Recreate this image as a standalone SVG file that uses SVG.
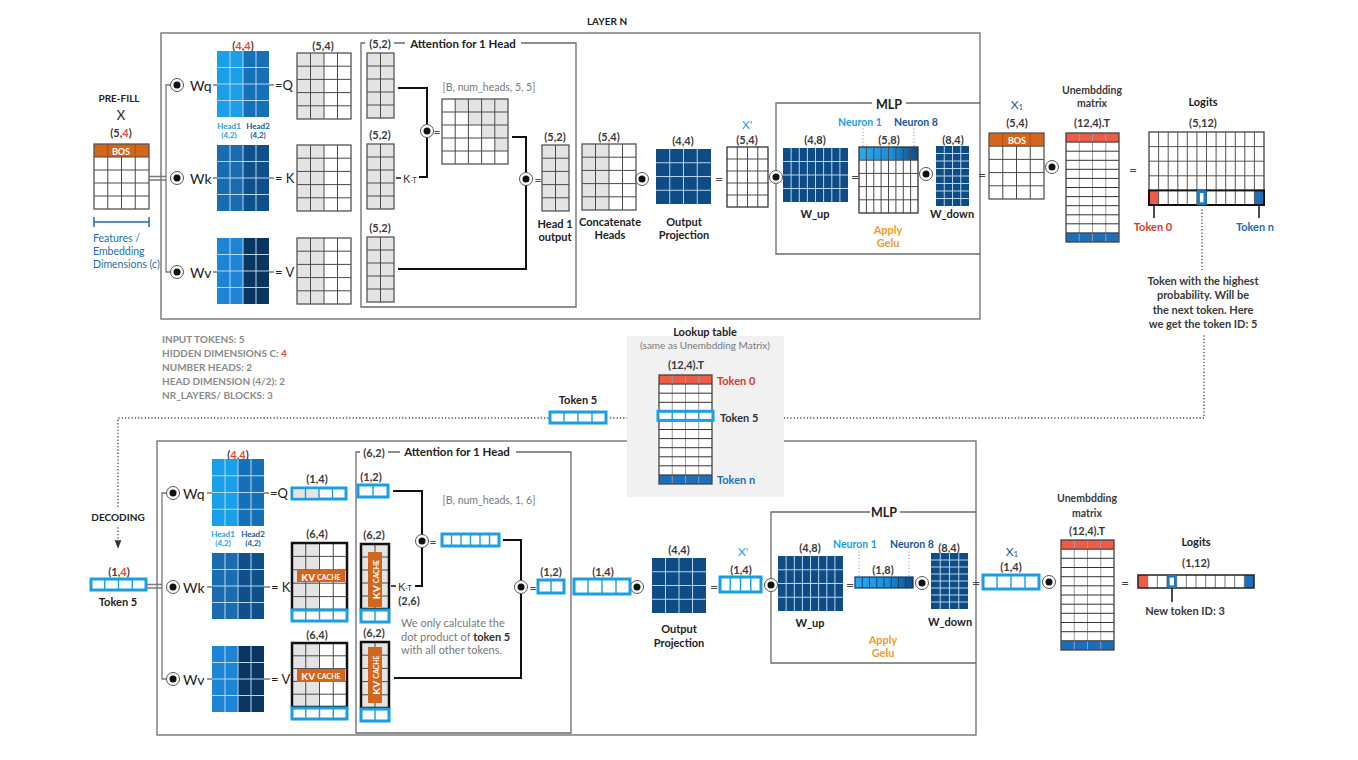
<svg xmlns="http://www.w3.org/2000/svg" width="1358" height="760" viewBox="0 0 1358 760">
<style>
text{font-family:Lato,"Noto Sans","Liberation Sans",sans-serif;dominant-baseline:central}
.l{font-size:11px;font-weight:700;fill:#3a3a3a;text-anchor:middle}
.t{font-size:11px;font-weight:700;fill:#222;text-anchor:middle}
.w{font-size:14px;fill:#222}
.wq{font-size:13px;fill:#222}
.eq{font-size:14px;fill:#444;text-anchor:middle}
.r{fill:#e8493a}
.g{stroke:#4a4a4a;stroke-width:1;fill:none}
.gl{stroke:#9a9a9a;stroke-width:1;fill:none}
.gb{fill:none;stroke:#555;stroke-width:1.3}
.gc{fill:#e4e4e4}
.bx{fill:none;stroke:#6b6b6b;stroke-width:1.3}
.bl{stroke:#b8d6ef;stroke-width:1;fill:none}
.dk{fill:#0f4c85}
.cn{stroke:#111;stroke-width:2;fill:none}
.bus{stroke:#7a7a7a;stroke-width:1.3;fill:none}
.dot{stroke:#333;stroke-width:1.4;stroke-dasharray:0.1 3.2;stroke-linecap:round;fill:none}
.vec{fill:#fff;stroke:#1a9ee6;stroke-width:3}
.vd{stroke:#1a9ee6;stroke-width:1.4;fill:none}
.kv{stroke:#111;stroke-width:2.5;fill:none}
.ko{fill:#d4651c}
.kt{font-weight:700;fill:#fff;text-anchor:middle}
.pm{font-size:10px;font-weight:700;fill:#8a8a8a}
.gt{font-size:10.5px;fill:#7a7a7a;text-anchor:middle}
.hd{font-size:8px;font-weight:700;text-anchor:middle}
.or{font-size:11px;font-weight:700;fill:#f39a2b;text-anchor:middle}
</style>
<defs>
<g id="op"><circle r="6.5" fill="#fff" stroke="#555" stroke-width="1"/><circle r="3.5" fill="#111"/></g>
<linearGradient id="neu" x1="0" x2="1" y1="0" y2="0"><stop offset="0" stop-color="#2aa8f0"/><stop offset="0.55" stop-color="#1a8fdc"/><stop offset="1" stop-color="#0e4a82"/></linearGradient>
<marker id="arr" viewBox="0 0 10 10" refX="8" refY="5" markerWidth="6" markerHeight="6" orient="auto"><path d="M0 1L10 5L0 9Z" fill="#333"/></marker>
</defs>

<!-- ===== Frames ===== -->
<g id="frames">
<text x="607" y="21" class="t" style="font-size:10px">LAYER N</text>
<rect x="161" y="33" width="819" height="286" class="bx"/>
<path class="bx" d="M365 43H361V307H576V43H521M394 43H405"/>
<text x="463" y="43" class="t" style="font-size:11.5px">Attention for 1 Head</text>
<path class="bx" d="M872 103H776V254H980M906 103H980"/>
<text x="889" y="104" class="t" style="font-size:12.5px">MLP</text>
<rect x="157" y="441" width="819" height="294" class="bx"/>
<path class="bx" d="M360 452H356V733H571V452H516M388 452H400"/>
<text x="457" y="451" class="t" style="font-size:11.5px">Attention for 1 Head</text>
<path class="bx" d="M870 512H771V663H976M900 512H976"/>
<text x="884" y="512" class="t" style="font-size:12.5px">MLP</text>
</g>

<!-- ===== Connectors ===== -->
<g id="connectors">
<path class="bus" d="M149 176.5H166M149 180H166M171 85H166V272H171"/>
<path class="bus" d="M213 85H217M269 85H274M213 178H217M269 178H274M213 272H217M269 272H274"/>
<path class="cn" d="M398 88H427V177H419"/>
<path class="cn" d="M396 178H401" style="stroke-width:1.5"/>
<path class="cn" d="M512 137H526V269H398"/>
<path class="bus" d="M146 584.5H162M146 588H162M168 493H162V679H168"/>
<path class="bus" d="M207 493H212M264 493H269M207 587H212M264 587H270M207 679H212M264 679H270"/>
<path class="cn" d="M393 491H422V586H415"/>
<path class="cn" d="M391 586H396" style="stroke-width:1.5"/>
<path class="cn" d="M503 540H521V678H394"/>
<path class="dot" d="M1202 210V270"/>
<path class="dot" d="M1204 336V418H774" marker-end="url(#arr)"/>
<path class="dot" d="M647 418H608"/>
<path class="dot" d="M548 418H118V508"/>
<path class="dot" d="M118 528V547" marker-end="url(#arr)"/>
<path class="dot" style="stroke:#777;stroke-width:1" d="M863 129V146M914 129V146M859 552V576M909 552V576"/>
<path d="M1154 205V218M1259 205V218M1172 588V602" stroke="#111" stroke-width="1.5"/>
<path d="M94 222H149M94 217V227M149 217V227" stroke="#1a6fb0" stroke-width="1.5"/>
</g>

<!-- ===== Operators ===== -->
<g id="operators">
<use href="#op" x="177" y="85"/><use href="#op" x="177" y="178"/><use href="#op" x="177" y="272"/>
<use href="#op" x="427" y="131"/><use href="#op" x="526" y="179"/>
<use href="#op" x="642" y="179"/><use href="#op" x="776" y="177"/><use href="#op" x="926" y="174"/><use href="#op" x="1052" y="167"/>
<use href="#op" x="173" y="493"/><use href="#op" x="173" y="587"/><use href="#op" x="173" y="679"/>
<use href="#op" x="422" y="541"/><use href="#op" x="521" y="587"/>
<use href="#op" x="637" y="587"/><use href="#op" x="771" y="585"/><use href="#op" x="922" y="583"/><use href="#op" x="1049" y="582"/>
<text x="437" y="131" class="eq" style="font-size:12px">=</text>
<text x="538" y="179" class="eq" style="font-size:12px">=</text>
<text x="719" y="178" class="eq">=</text>
<text x="855" y="176" class="eq">=</text>
<text x="982" y="174" class="eq">=</text>
<text x="1133" y="169" class="eq">=</text>
<text x="433" y="541" class="eq" style="font-size:12px">=</text>
<text x="533" y="587" class="eq" style="font-size:12px">=</text>
<text x="714" y="586" class="eq">=</text>
<text x="850" y="584" class="eq">=</text>
<text x="976" y="582" class="eq">=</text>
<text x="1125" y="582" class="eq">=</text>
</g>

<!-- ===== PRE-FILL input ===== -->
<g id="prefill-x">
<text x="119" y="98" class="t" style="font-size:10px">PRE-FILL</text>
<text x="121" y="115" class="t" style="font-size:13px;font-weight:400">X</text>
<text x="121" y="132" class="l">(5,<tspan class="r">4</tspan>)</text>
<rect x="94" y="144" width="55" height="13" fill="#d4661c"/>
<path class="g" d="M107.75 157V209M121.5 157V209M135.25 157V209M94 157H149M94 170H149M94 183H149M94 196H149"/>
<path d="M107.75 144V157M135.25 144V157" stroke="#a84c12" stroke-width="1"/>
<rect x="94" y="144" width="55" height="65" class="gb"/>
<text x="121" y="151" class="kt" style="font-size:9px">BOS</text>
<text x="93" y="238" style="font-size:10.5px;fill:#1a6fb0">Features /</text>
<text x="93" y="251" style="font-size:10.5px;fill:#1a6fb0">Embedding</text>
<text x="93" y="264" style="font-size:10.5px;fill:#1a6fb0">Dimensions (c)</text>
</g>

<!-- ===== Top weights ===== -->
<g id="top-weights">
<text x="190" y="85" class="w">Wq</text>
<text x="190" y="178" class="w">Wk</text>
<text x="190" y="272" class="w">Wv</text>
<text x="243" y="45" class="l">(<tspan class="r">4</tspan>,<tspan class="r">4</tspan>)</text>
<rect x="217" y="51" width="26" height="66" fill="#1aa0ea"/><rect x="243" y="51" width="26" height="66" fill="#1570b8"/>
<path class="bl" d="M230 51V117M243 51V117M256 51V117M217 67.5H269M217 84H269M217 100.5H269"/>
<text x="229" y="126" class="hd" fill="#1a9ee6">Head1</text><text x="229" y="135" class="hd" fill="#1a9ee6">(4,2)</text>
<text x="258" y="126" class="hd" fill="#15589a">Head2</text><text x="258" y="135" class="hd" fill="#15589a">(4,2)</text>
<rect x="217" y="145" width="26" height="66" fill="#1a6cb0"/><rect x="243" y="145" width="26" height="66" fill="#0f4f8c"/>
<path class="bl" d="M230 145V211M243 145V211M256 145V211M217 161.5H269M217 178H269M217 194.5H269"/>
<rect x="217" y="238" width="26" height="66" fill="#1c85d5"/><rect x="243" y="238" width="26" height="66" fill="#0a3560"/>
<path class="bl" d="M230 238V304M243 238V304M256 238V304M217 254.5H269M217 271H269M217 287.5H269"/>
<text x="275" y="85" class="wq">=Q</text>
<text x="275" y="178" class="wq">= K</text>
<text x="275" y="272" class="wq">= V</text>
</g>

<g id="top-qkv">
<text x="323" y="45" class="l">(5,4)</text>
<rect x="297" y="53" width="27" height="66" class="gc"/>
<path class="g" d="M310.5 53V119M324 53V119M337.5 53V119M297 66.2H351M297 79.4H351M297 92.6H351M297 105.8H351"/>
<rect x="297" y="53" width="54" height="66" class="gb"/>
<rect x="297" y="145" width="27" height="66" class="gc"/>
<path class="g" d="M310.5 145V211M324 145V211M337.5 145V211M297 158.2H351M297 171.4H351M297 184.6H351M297 197.8H351"/>
<rect x="297" y="145" width="54" height="66" class="gb"/>
<rect x="297" y="238" width="27" height="66" class="gc"/>
<path class="g" d="M310.5 238V304M324 238V304M337.5 238V304M297 251.2H351M297 264.4H351M297 277.6H351M297 290.8H351"/>
<rect x="297" y="238" width="54" height="66" class="gb"/>
</g>

<!-- ===== Top attention ===== -->
<g id="top-attention">
<text x="380" y="43" class="l">(5,2)</text>
<rect x="367" y="53" width="27" height="65" class="gc"/>
<path class="g" d="M380.5 53V118M367 66H394M367 79H394M367 92H394M367 105H394"/>
<rect x="367" y="53" width="27" height="65" class="gb"/>
<text x="380" y="134" class="l">(5,2)</text>
<rect x="367" y="144" width="27" height="65" class="gc"/>
<path class="g" d="M380.5 144V209M367 157H394M367 170H394M367 183H394M367 196H394"/>
<rect x="367" y="144" width="27" height="65" class="gb"/>
<text x="403" y="178" style="font-size:11px;fill:#333">K<tspan style="font-size:7px" dy="2">-T</tspan></text>
<text x="380" y="227" class="l">(5,2)</text>
<rect x="367" y="237" width="27" height="65" class="gc"/>
<path class="g" d="M380.5 237V302M367 250H394M367 263H394M367 276H394M367 289H394"/>
<rect x="367" y="237" width="27" height="65" class="gb"/>
<text x="489" y="87" class="gt">[B, num_heads, 5, 5]</text>
<rect x="455.2" y="99" width="52.8" height="13" class="gc"/>
<rect x="468.4" y="112" width="39.6" height="13" class="gc"/>
<rect x="481.6" y="125" width="26.4" height="13" class="gc"/>
<rect x="494.8" y="138" width="13.2" height="13" class="gc"/>
<path class="g" d="M455.2 99V164M468.4 99V164M481.6 99V164M494.8 99V164M442 112H508M442 125H508M442 138H508M442 151H508"/>
<rect x="442" y="99" width="66" height="65" class="gb"/>
<text x="555" y="136" class="l">(5,2)</text>
<rect x="542" y="145" width="27" height="66" class="gc"/>
<path class="g" d="M555.5 145V211M542 158.2H569M542 171.4H569M542 184.6H569M542 197.8H569"/>
<rect x="542" y="145" width="27" height="66" class="gb"/>
<text x="555" y="223" class="t">Head 1</text>
<text x="555" y="236" class="t">output</text>
</g>

<g id="top-concat">
<text x="609" y="136" class="l">(5,4)</text>
<rect x="582" y="144" width="27" height="66" class="gc"/>
<path class="g" d="M595.5 144V210M609 144V210M622.5 144V210M582 157.2H636M582 170.4H636M582 183.6H636M582 196.8H636"/>
<rect x="582" y="144" width="54" height="66" class="gb"/>
<text x="610" y="221" class="t">Concatenate</text>
<text x="610" y="234" class="t">Heads</text>
</g>

<g id="top-outproj">
<text x="683" y="140" class="l">(4,4)</text>
<rect x="656" y="149" width="55" height="55" class="dk"/>
<path class="bl" d="M669.75 149V204M683.5 149V204M697.25 149V204M656 162.75H711M656 176.5H711M656 190.25H711"/>
<text x="684" y="221" class="t">Output</text>
<text x="684" y="234" class="t">Projection</text>
</g>

<g id="top-xprime">
<text x="747" y="124" style="font-size:12px;fill:#1a9ee6;text-anchor:middle">X'</text>
<text x="747" y="139" class="l">(5,4)</text>
<path class="g" d="M737.25 147V207M747.5 147V207M757.75 147V207M727 159H768M727 171H768M727 183H768M727 195H768"/>
<rect x="727" y="147" width="41" height="60" class="gb" style="stroke:#333"/>
</g>

<!-- ===== Top MLP ===== -->
<g id="top-mlp">
<text x="815" y="139" class="l">(4,8)</text>
<rect x="783" y="148" width="65" height="54" class="dk"/>
<path class="bl" d="M791.1 148V202M799.3 148V202M807.4 148V202M815.5 148V202M823.6 148V202M831.8 148V202M839.9 148V202M783 161.5H848M783 175H848M783 188.5H848"/>
<text x="815" y="213" class="t">W_up</text>
<text x="860" y="122" style="font-size:10.5px;font-weight:700;fill:#1a9ee6;text-anchor:middle">Neuron 1</text>
<text x="916" y="122" style="font-size:10.5px;font-weight:700;fill:#15589a;text-anchor:middle">Neuron 8</text>
<text x="889" y="139" class="l">(5,8)</text>
<rect x="859" y="147" width="59" height="13.2" fill="url(#neu)"/>
<path class="g" d="M866.4 147V213M873.8 147V213M881.1 147V213M888.5 147V213M895.9 147V213M903.3 147V213M910.6 147V213M859 160.2H918M859 173.4H918M859 186.6H918M859 199.8H918"/>
<rect x="859" y="147" width="59" height="66" class="gb" style="stroke:#333"/>
<text x="888" y="229" class="or">Apply</text>
<text x="888" y="242" class="or">Gelu</text>
<text x="953" y="139" class="l">(8,4)</text>
<rect x="936" y="146" width="33" height="60" class="dk"/>
<path class="bl" d="M944.25 146V206M952.5 146V206M960.75 146V206M936 153.5H969M936 161H969M936 168.5H969M936 176H969M936 183.5H969M936 191H969M936 198.5H969"/>
<text x="952" y="213" class="t">W_down</text>
</g>

<!-- ===== Top output ===== -->
<g id="top-x1">
<text x="1017" y="104" style="font-size:12px;fill:#1a5fa0;text-anchor:middle">X<tspan style="font-size:8px" dy="3">1</tspan></text>
<text x="1017" y="122" class="l">(5,4)</text>
<rect x="989" y="133" width="55" height="13.2" fill="#d4661c"/>
<path class="g" d="M1002.75 146.2V199M1016.5 146.2V199M1030.25 146.2V199M989 146.2H1044M989 159.4H1044M989 172.6H1044M989 185.8H1044"/>
<path d="M1002.75 133V146.2M1030.25 133V146.2" stroke="#a84c12" stroke-width="1"/>
<rect x="989" y="133" width="55" height="66" class="gb"/>
<text x="1017" y="140" class="kt" style="font-size:9px">BOS</text>
</g>

<g id="top-unembed">
<text x="1092" y="90" class="l" style="font-size:10.5px">Unembdding</text>
<text x="1092" y="103" class="l" style="font-size:10.5px">matrix</text>
<text x="1092" y="122" class="l">(12,4).T</text>
<rect x="1066" y="133" width="53" height="9.1" fill="#ee5c47"/>
<rect x="1066" y="232.9" width="53" height="9.1" fill="#1a6fb8"/>
<path class="gl" d="M1079.25 133V242M1092.5 133V242M1105.75 133V242"/>
<path class="g" style="stroke:#333" d="M1066 142.1H1119M1066 151.2H1119M1066 160.3H1119M1066 169.3H1119M1066 178.4H1119M1066 187.5H1119M1066 196.6H1119M1066 205.7H1119M1066 214.8H1119M1066 223.8H1119M1066 232.9H1119"/>
<rect x="1066" y="133" width="53" height="109" class="gb" style="stroke:#444"/>
</g>

<g id="top-logits">
<text x="1203" y="101" class="t">Logits</text>
<text x="1203" y="122" class="l">(5,12)</text>
<rect x="1149" y="190.4" width="9.6" height="14.6" fill="#ee5c47"/>
<rect x="1254.4" y="190.4" width="9.6" height="14.6" fill="#1a6fb8"/>
<path class="g" style="stroke:#555" d="M1158.6 132V205M1168.2 132V205M1177.8 132V205M1187.3 132V205M1196.9 132V205M1206.5 132V205M1216.1 132V205M1225.7 132V205M1235.3 132V205M1244.8 132V205M1254.4 132V205M1149 146.6H1264M1149 161.2H1264M1149 175.8H1264M1149 190.4H1264"/>
<rect x="1149" y="132" width="115" height="73" class="gb" style="stroke:#444"/>
<rect x="1149" y="190.4" width="115" height="14.6" fill="none" stroke="#111" stroke-width="2"/>
<rect x="1198.4" y="191.6" width="6.6" height="12.2" fill="#fff" stroke="#1a7ac8" stroke-width="3"/>
<text x="1153" y="226" style="font-size:11px;font-weight:700;fill:#d93a2b;text-anchor:middle">Token 0</text>
<text x="1255" y="226" style="font-size:11px;font-weight:700;fill:#1a6fb8;text-anchor:middle">Token n</text>
<text x="1203" y="280" class="l">Token with the highest</text>
<text x="1203" y="294" class="l">probability. Will be</text>
<text x="1203" y="309" class="l">the next token. Here</text>
<text x="1203" y="323" class="l">we get the token ID: 5</text>
</g>

<!-- ===== Parameters ===== -->
<g id="params">
<text x="162" y="339" class="pm">INPUT TOKENS: 5</text>
<text x="162" y="353" class="pm">HIDDEN DIMENSIONS C: <tspan class="r">4</tspan></text>
<text x="162" y="367" class="pm">NUMBER HEADS: 2</text>
<text x="162" y="381" class="pm">HEAD DIMENSION (4/2): 2</text>
<text x="162" y="395" class="pm">NR_LAYERS/ BLOCKS: 3</text>
</g>

<!-- ===== Lookup table ===== -->
<g id="lookup">
<rect x="627" y="336" width="157" height="161" fill="#f1f1f1"/>
<text x="705" y="331" class="t">Lookup table</text>
<text x="705" y="345" class="gt" style="font-size:10px">(same as Unembdding Matrix)</text>
<text x="686" y="364" class="l">(12,4).T</text>
<rect x="659" y="375" width="53" height="9.1" fill="#ee5c47"/>
<rect x="659" y="474.9" width="53" height="9.1" fill="#1a6fb8"/>
<rect x="659" y="384.1" width="53" height="90.8" fill="#fff"/>
<path class="gl" d="M672.25 375V484M685.5 375V484M698.75 375V484"/>
<path class="g" style="stroke:#333" d="M659 384.1H712M659 393.2H712M659 402.3H712M659 411.3H712M659 420.4H712M659 429.5H712M659 438.6H712M659 447.7H712M659 456.8H712M659 465.8H712M659 474.9H712"/>
<rect x="659" y="375" width="53" height="109" class="gb" style="stroke:#444"/>
<rect x="658" y="411.3" width="55" height="9.1" fill="#fff" stroke="#1a9ee6" stroke-width="3"/>
<path class="vd" d="M672.25 412V420M685.5 412V420M698.75 412V420"/>
<text x="717" y="380" style="font-size:11px;font-weight:700;fill:#d93a2b">Token 0</text>
<text x="720" y="417" style="font-size:11px;font-weight:700;fill:#333">Token 5</text>
<text x="717" y="479" style="font-size:11px;font-weight:700;fill:#1a6fb8">Token n</text>
</g>

<g id="token5-lookup">
<text x="578" y="399" class="t">Token 5</text>
<rect x="550" y="412" width="56" height="11" class="vec"/>
<path class="vd" d="M564 412V423M578 412V423M592 412V423"/>
</g>

<!-- ===== DECODING input ===== -->
<g id="decoding-x">
<text x="118" y="517" class="t" style="font-size:10px">DECODING</text>
<text x="119" y="571" class="l">(1,<tspan class="r">4</tspan>)</text>
<rect x="91" y="579" width="55" height="11" class="vec"/>
<path class="vd" d="M104.75 579V590M118.5 579V590M132.25 579V590"/>
<text x="118" y="601" class="t">Token 5</text>
</g>

<!-- ===== Bottom weights ===== -->
<g id="bottom-weights">
<text x="183" y="493" class="w">Wq</text>
<text x="183" y="587" class="w">Wk</text>
<text x="183" y="679" class="w">Wv</text>
<text x="238" y="454" class="l">(<tspan class="r">4</tspan>,<tspan class="r">4</tspan>)</text>
<rect x="212" y="459" width="26" height="67" fill="#1aa0ea"/><rect x="238" y="459" width="26" height="67" fill="#1570b8"/>
<path class="bl" d="M225 459V526M238 459V526M251 459V526M212 475.75H264M212 492.5H264M212 509.25H264"/>
<text x="223" y="534" class="hd" fill="#1a9ee6">Head1</text><text x="223" y="543" class="hd" fill="#1a9ee6">(4,2)</text>
<text x="253" y="534" class="hd" fill="#15589a">Head2</text><text x="253" y="543" class="hd" fill="#15589a">(4,2)</text>
<rect x="212" y="553" width="26" height="66" fill="#1a6cb0"/><rect x="238" y="553" width="26" height="66" fill="#0f4f8c"/>
<path class="bl" d="M225 553V619M238 553V619M251 553V619M212 569.5H264M212 586H264M212 602.5H264"/>
<rect x="212" y="646" width="26" height="66" fill="#1c85d5"/><rect x="238" y="646" width="26" height="66" fill="#0a3560"/>
<path class="bl" d="M225 646V712M238 646V712M251 646V712M212 662.5H264M212 679H264M212 695.5H264"/>
<text x="270" y="493" class="wq">=Q</text>
<text x="271" y="587" class="wq">= K</text>
<text x="271" y="679" class="wq">= V</text>
</g>

<g id="bottom-qkv">
<text x="317" y="478" class="l">(1,4)</text>
<rect x="292" y="488" width="54" height="11" class="vec"/>
<rect x="293.5" y="489.5" width="25.5" height="8" class="gc"/>
<path class="vd" d="M305.5 488V499M319 488V499M332.5 488V499"/>
<text x="317" y="533" class="l">(6,4)</text>
<rect x="292" y="543" width="27.5" height="67" class="gc"/>
<path class="g" d="M305.75 543V610M319.5 543V610M333.25 543V610M292 556.4H347M292 569.8H347M292 583.2H347M292 596.6H347"/>
<rect x="292" y="543" width="55" height="67" class="kv"/>
<rect x="297" y="570" width="48" height="12" class="ko"/>
<text x="321" y="576.5" class="kt" style="font-size:10px">KV <tspan style="font-size:7px">CACHE</tspan></text>
<rect x="292" y="610" width="55" height="11" class="vec"/>
<path class="vd" d="M305.75 610V621M319.5 610V621M333.25 610V621"/>
<text x="317" y="634" class="l">(6,4)</text>
<rect x="292" y="643" width="27.5" height="64" class="gc"/>
<path class="g" d="M305.75 643V707M319.5 643V707M333.25 643V707M292 655.8H347M292 668.6H347M292 681.4H347M292 694.2H347"/>
<rect x="292" y="643" width="55" height="64" class="kv"/>
<rect x="297" y="669" width="48" height="13" class="ko"/>
<text x="321" y="676" class="kt" style="font-size:10px">KV <tspan style="font-size:7px">CACHE</tspan></text>
<rect x="292" y="708" width="55" height="11" class="vec"/>
<path class="vd" d="M305.75 708V719M319.5 708V719M333.25 708V719"/>
</g>

<!-- ===== Bottom attention ===== -->
<g id="bottom-attention">
<text x="374" y="452" class="l">(6,2)</text>
<text x="371" y="476" class="l">(1,2)</text>
<rect x="358" y="485" width="30" height="12" class="vec"/>
<path class="vd" d="M373 485V497"/>
<text x="374" y="534" class="l">(6,2)</text>
<rect x="361" y="544" width="28" height="65" class="gc"/>
<path class="g" d="M375 544V609M361 557H389M361 570H389M361 583H389M361 596H389"/>
<rect x="361" y="544" width="28" height="65" class="kv"/>
<rect x="368" y="552" width="14" height="55" class="ko"/>
<text transform="translate(375.5 579.5) rotate(-90)" class="kt" style="font-size:10px">KV <tspan style="font-size:7px">CACHE</tspan></text>
<rect x="361" y="610" width="28" height="12" class="vec"/>
<path class="vd" d="M375 610V622"/>
<text x="398" y="586" style="font-size:11px;fill:#333">K<tspan style="font-size:7px" dy="2">-T</tspan></text>
<text x="409" y="600" class="l">(2,6)</text>
<text x="374" y="632" class="l">(6,2)</text>
<rect x="361" y="642" width="28" height="66" class="gc"/>
<path class="g" d="M375 642V708M361 655.2H389M361 668.4H389M361 681.6H389M361 694.8H389"/>
<rect x="361" y="642" width="28" height="66" class="kv"/>
<rect x="368" y="647" width="14" height="56" class="ko"/>
<text transform="translate(375.5 675) rotate(-90)" class="kt" style="font-size:10px">KV <tspan style="font-size:7px">CACHE</tspan></text>
<rect x="361" y="709" width="28" height="12" class="vec"/>
<path class="vd" d="M375 709V721"/>
<text x="489" y="500" class="gt">[B, num_heads, 1, 6]</text>
<rect x="442" y="534" width="57" height="12" class="vec"/>
<path class="vd" d="M451.5 534V546M461 534V546M470.5 534V546M480 534V546M489.5 534V546"/>
<text x="551" y="571" class="l">(1,2)</text>
<rect x="538" y="580" width="26" height="13" class="vec"/>
<path class="vd" d="M551 580V593"/>
<text x="401" y="622" style="font-size:11px;fill:#7a7a7a">We only calculate the</text>
<text x="401" y="636" style="font-size:11px;fill:#7a7a7a">dot product of <tspan style="font-weight:700;fill:#333">token 5</tspan></text>
<text x="401" y="649" style="font-size:11px;fill:#7a7a7a">with all other tokens.</text>
</g>

<g id="bottom-concat">
<text x="603" y="571" class="l">(1,4)</text>
<rect x="574" y="579" width="56" height="15" class="vec"/>
<path class="vd" d="M588 579V594M602 579V594M616 579V594"/>
</g>

<g id="bottom-outproj">
<text x="679" y="549" class="l">(4,4)</text>
<rect x="652" y="558" width="54" height="55" class="dk"/>
<path class="bl" d="M665.5 558V613M679 558V613M692.5 558V613M652 571.75H706M652 585.5H706M652 599.25H706"/>
<text x="679" y="628" class="t">Output</text>
<text x="679" y="642" class="t">Projection</text>
</g>

<g id="bottom-xprime">
<text x="743" y="551" style="font-size:12px;fill:#1a9ee6;text-anchor:middle">X'</text>
<text x="741" y="569" class="l">(1,4)</text>
<rect x="720" y="577" width="41" height="15" class="vec"/>
<path class="vd" d="M730.25 577V592M740.5 577V592M750.75 577V592"/>
</g>

<!-- ===== Bottom MLP ===== -->
<g id="bottom-mlp">
<text x="810" y="547" class="l">(4,8)</text>
<rect x="778" y="556" width="65" height="55" class="dk"/>
<path class="bl" d="M786.1 556V611M794.3 556V611M802.4 556V611M810.5 556V611M818.6 556V611M826.8 556V611M834.9 556V611M778 569.75H843M778 583.5H843M778 597.25H843"/>
<text x="810" y="622" class="t">W_up</text>
<text x="855" y="544" style="font-size:10.5px;font-weight:700;fill:#1a9ee6;text-anchor:middle">Neuron 1</text>
<text x="912" y="544" style="font-size:10.5px;font-weight:700;fill:#15589a;text-anchor:middle">Neuron 8</text>
<text x="883" y="569" class="l">(1,8)</text>
<rect x="855" y="577" width="58" height="11" fill="url(#neu)" stroke="#0d3a66" stroke-width="1.2"/>
<path d="M862.25 577V588M869.5 577V588M876.75 577V588M884 577V588M891.25 577V588M898.5 577V588M905.75 577V588" stroke="#0d3a66" stroke-width="0.9"/>
<text x="883" y="639" class="or">Apply</text>
<text x="883" y="652" class="or">Gelu</text>
<text x="949" y="547" class="l">(8,4)</text>
<rect x="931" y="553" width="37" height="56" class="dk"/>
<path class="bl" d="M940.25 553V609M949.5 553V609M958.75 553V609M931 560H968M931 567H968M931 574H968M931 581H968M931 588H968M931 595H968M931 602H968"/>
<text x="950" y="621" class="t">W_down</text>
</g>

<!-- ===== Bottom output ===== -->
<g id="bottom-x1">
<text x="1012" y="551" style="font-size:12px;fill:#1a5fa0;text-anchor:middle">X<tspan style="font-size:8px" dy="3">1</tspan></text>
<text x="1011" y="566" class="l">(1,4)</text>
<rect x="983" y="575" width="56" height="14" class="vec"/>
<path class="vd" d="M997 575V589M1011 575V589M1025 575V589"/>
</g>

<g id="bottom-unembed">
<text x="1087" y="498" class="l" style="font-size:10.5px">Unembdding</text>
<text x="1087" y="513" class="l" style="font-size:10.5px">matrix</text>
<text x="1087" y="530" class="l">(12,4).T</text>
<rect x="1061" y="540" width="53" height="9.2" fill="#ee5c47"/>
<rect x="1061" y="640.8" width="53" height="9.2" fill="#1a6fb8"/>
<path class="gl" d="M1074.25 540V650M1087.5 540V650M1100.75 540V650"/>
<path class="g" style="stroke:#333" d="M1061 549.2H1114M1061 558.3H1114M1061 567.5H1114M1061 576.7H1114M1061 585.8H1114M1061 595H1114M1061 604.2H1114M1061 613.3H1114M1061 622.5H1114M1061 631.7H1114M1061 640.8H1114"/>
<rect x="1061" y="540" width="53" height="110" class="gb" style="stroke:#444"/>
</g>

<g id="bottom-logits">
<text x="1196" y="541" class="t">Logits</text>
<text x="1196" y="562" class="l">(1,12)</text>
<rect x="1138" y="575" width="9.7" height="13" fill="#ee5c47"/>
<rect x="1244.3" y="575" width="9.7" height="13" fill="#1a6fb8"/>
<path class="g" style="stroke:#777" d="M1147.7 575V588M1157.3 575V588M1167 575V588M1176.7 575V588M1186.3 575V588M1196 575V588M1205.7 575V588M1215.3 575V588M1225 575V588M1234.7 575V588M1244.3 575V588"/>
<rect x="1138" y="575" width="116" height="13" fill="none" stroke="#222" stroke-width="1.5"/>
<rect x="1168.3" y="576.3" width="7" height="10.4" fill="#fff" stroke="#1a7ac8" stroke-width="2.6"/>
<text x="1185" y="610" class="l" style="font-size:11px">New token ID: 3</text>
</g>
</svg>
